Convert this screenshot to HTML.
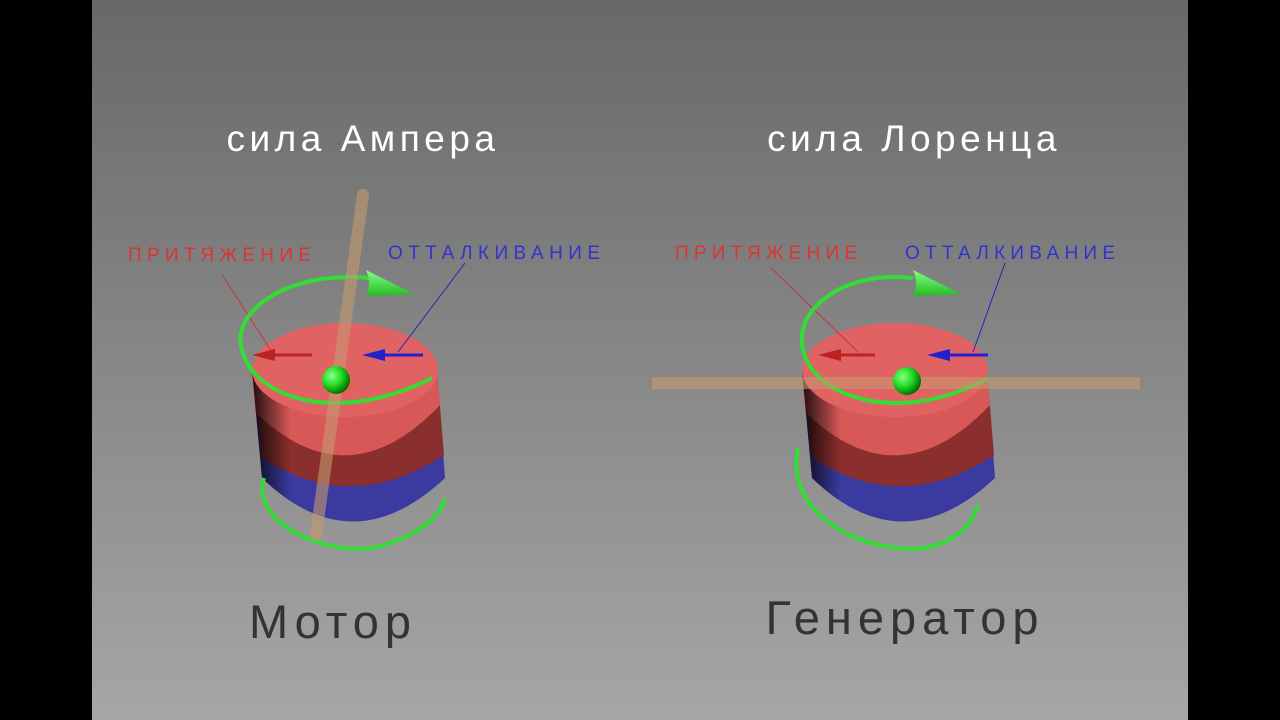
<!DOCTYPE html>
<html><head><meta charset="utf-8"><style>
html,body{margin:0;padding:0;background:#000;width:1280px;height:720px;overflow:hidden}
</style></head><body>
<svg width="1280" height="720" xmlns="http://www.w3.org/2000/svg" style="display:block">
<defs>
<linearGradient id="bg" x1="0" y1="0" x2="0" y2="1">
<stop offset="0" stop-color="#686868"/><stop offset="1" stop-color="#a6a6a6"/></linearGradient>
<linearGradient id="side" x1="252" y1="0" x2="445" y2="0" gradientUnits="userSpaceOnUse">
<stop offset="0" stop-color="#000" stop-opacity="0.85"/><stop offset="0.2" stop-color="#000" stop-opacity="0"/></linearGradient>
<radialGradient id="ball" cx="0.35" cy="0.35" r="0.7"><stop offset="0" stop-color="#8f8"/><stop offset="0.5" stop-color="#2d2"/><stop offset="1" stop-color="#060"/></radialGradient>
<linearGradient id="cone" x1="0" y1="0" x2="0" y2="1"><stop offset="0" stop-color="#8f8"/><stop offset="1" stop-color="#2b2"/></linearGradient>
<g id="cyl">
 <path d="M252 370 L262 478 Q352 565 445 478 L437 370 Z" fill="#3a3aa0"/>
 <path d="M252 370 L262 458 Q352 516 444 455 L437 370 Z" fill="#8a2e2e"/>
 <path d="M252 370 L255 412 Q348 502 440 405 L437 370 Z" fill="#d85858"/>
 <path d="M252 370 L262 478 Q352 565 445 478 L437 370 Z" fill="url(#side)"/>
 <ellipse cx="345" cy="370" rx="93" ry="47" fill="#e06262"/>
</g>
</defs>
<rect x="0" y="0" width="1280" height="720" fill="#000"/>
<rect x="92" y="0" width="1096" height="720" fill="url(#bg)"/>

<g id="left">
 <use href="#cyl"/>
 <line x1="222" y1="275" x2="272" y2="352" stroke="#c33" stroke-width="1"/>
 <line x1="312" y1="355" x2="258" y2="355" stroke="#b22" stroke-width="3"/>
 <polygon points="252,355 275,349 275,361" fill="#b22"/>
 <line x1="465" y1="263" x2="398" y2="352" stroke="#22b" stroke-width="1"/>
 <line x1="423" y1="355" x2="370" y2="355" stroke="#22c" stroke-width="3"/>
 <polygon points="362,355 385,349 385,361" fill="#22c"/>
 <path d="M370 278 C290 270 230 310 242 350 C255 400 340 425 432 378" fill="none" stroke="#3d3" stroke-width="4"/>
 <path d="M264 478 C250 520 320 555 372 548 C410 540 440 520 445 498" fill="none" stroke="#3d3" stroke-width="4"/>
 <path d="M366 270 Q372 283 366 296 L414 294 Z" fill="url(#cone)"/>
 <line x1="363" y1="195" x2="316" y2="535" stroke="#c49a70" stroke-opacity="0.6" stroke-width="12" stroke-linecap="round"/>
 <circle cx="336" cy="380" r="14" fill="url(#ball)"/>
</g>

<g id="right" transform="translate(550,0)">
 <use href="#cyl"/>
 <line x1="221" y1="268" x2="308" y2="352" stroke="#c33" stroke-width="1"/>
 <line x1="325" y1="355" x2="275" y2="355" stroke="#b22" stroke-width="3"/>
 <polygon points="268,355 291,349 291,361" fill="#b22"/>
 <line x1="455" y1="263" x2="423" y2="352" stroke="#22b" stroke-width="1"/>
 <line x1="438" y1="355" x2="385" y2="355" stroke="#22c" stroke-width="3"/>
 <polygon points="377,355 400,349 400,361" fill="#22c"/>
 <path d="M363 278 C293 270 243 310 253 350 C265 400 353 425 438 378" fill="none" stroke="#3d3" stroke-width="4"/>
 <path d="M248 448 C233 520 323 555 375 548 C413 540 423 520 428 505" fill="none" stroke="#3d3" stroke-width="4"/>
 <path d="M363 270 Q369 283 363 296 L411 294 Z" fill="url(#cone)"/>
 <line x1="102" y1="383" x2="590" y2="383" stroke="#c49a70" stroke-opacity="0.6" stroke-width="12"/>
 <circle cx="357" cy="381" r="14" fill="url(#ball)"/>
</g>

<g font-family="Liberation Sans, DejaVu Sans, sans-serif">
<text x="363" y="151" fill="#fff" font-size="37" text-anchor="middle" letter-spacing="4.5">сила Ампера</text>
<text x="914" y="151" fill="#fff" font-size="37" text-anchor="middle" letter-spacing="4.5">сила Лоренца</text>
<text x="333" y="638" fill="#333" font-size="47" text-anchor="middle" letter-spacing="6">Мотор</text>
<text x="905" y="634" fill="#333" font-size="47" text-anchor="middle" letter-spacing="6">Генератор</text>
<text x="128" y="261" fill="#d33" font-size="19" textLength="188" letter-spacing="5">ПРИТЯЖЕНИЕ</text>
<text x="388" y="259" fill="#33c" font-size="19" textLength="217" letter-spacing="5">ОТТАЛКИВАНИЕ</text>
<text x="675" y="259" fill="#d33" font-size="19" textLength="187" letter-spacing="5">ПРИТЯЖЕНИЕ</text>
<text x="905" y="259" fill="#33c" font-size="19" textLength="215" letter-spacing="5">ОТТАЛКИВАНИЕ</text>
</g>
</svg>
</body></html>
